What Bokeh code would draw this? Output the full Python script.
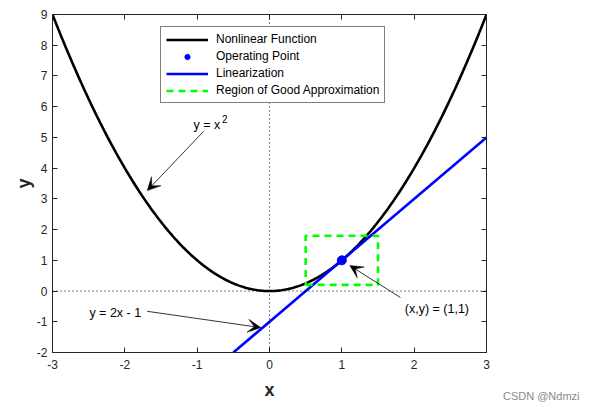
import numpy as np
from bokeh.plotting import figure
from bokeh.models import (Span, Arrow, VeeHead, Label, LinearAxis, Range1d,
                          FixedTicker, Legend, Title)
from bokeh.embed import file_html
from bokeh.resources import INLINE

# ---- data ----
curve_x = np.linspace(-3, 3, 301)
curve_y = curve_x ** 2                    # nonlinear function y = x^2
op_x = [1.0]
op_y = [1.0]
lin_x = [-0.5, 3.0]
lin_y = [-2.0, 5.0]                       # y = 2x - 1
region_x = [0.5, 1.5, 1.5, 0.5, 0.5]
region_y = [0.2, 0.2, 1.8, 1.8, 0.2]
x_ticks = [-3, -2, -1, 0, 1, 2, 3]
y_ticks = [-2, -1, 0, 1, 2, 3, 4, 5, 6, 7, 8, 9]

FONT = "Liberation Sans"
AX = "#262626"

p = figure(frame_width=434, frame_height=338,
           min_border_left=52, min_border_top=14, min_border_right=96,
           min_border_bottom=30, output_backend="svg", toolbar_location=None,
           x_range=Range1d(-3, 3), y_range=Range1d(-2, 9))
p.grid.visible = False
p.outline_line_color = AX
p.outline_line_width = 1
p.background_fill_color = "white"
p.border_fill_color = "white"

for ax in (p.xaxis[0], p.yaxis[0]):
    ax.major_tick_in = 5
    ax.major_tick_out = 0
    ax.minor_tick_in = 0
    ax.minor_tick_out = 0
    ax.axis_line_color = AX
    ax.major_tick_line_color = AX
    ax.major_label_text_color = AX
    ax.major_label_text_font = FONT
    ax.major_label_text_font_size = "12px"
    ax.axis_label_text_font = FONT
    ax.axis_label_text_font_style = "bold"
    ax.axis_label_text_font_size = "18px"
    ax.axis_label_text_color = AX
p.xaxis[0].ticker = FixedTicker(ticks=x_ticks)
p.yaxis[0].ticker = FixedTicker(ticks=y_ticks)
p.xaxis[0].major_label_overrides = {t: str(t) for t in x_ticks}
p.yaxis[0].major_label_overrides = {t: str(t) for t in y_ticks}
p.xaxis[0].axis_label = "x"
p.yaxis[0].axis_label = "y"
p.xaxis[0].major_label_standoff = 7
p.yaxis[0].major_label_standoff = 5
p.xaxis[0].axis_label_standoff = 8
p.yaxis[0].axis_label_standoff = 0

top = LinearAxis(ticker=FixedTicker(ticks=x_ticks),
                 major_label_overrides={t: "" for t in x_ticks},
                 major_tick_in=5, major_tick_out=0, minor_tick_in=0, minor_tick_out=0,
                 major_label_standoff=0, axis_line_color=AX, major_tick_line_color=AX)
right = LinearAxis(ticker=FixedTicker(ticks=y_ticks),
                   major_label_overrides={t: "" for t in y_ticks},
                   major_tick_in=5, major_tick_out=0, minor_tick_in=0, minor_tick_out=0,
                   major_label_standoff=0, axis_line_color=AX, major_tick_line_color=AX)
p.add_layout(top, "above")
p.add_layout(right, "right")

p.add_layout(Span(location=0, dimension="height", line_color="black",
                  line_width=1, line_dash="1 3"))
p.add_layout(Span(location=0, dimension="width", line_color="black",
                  line_width=1, line_dash="1 3"))

r1 = p.line(curve_x, curve_y, line_color="black", line_width=2.6)
r3 = p.line(lin_x, lin_y, line_color="blue", line_width=2.6)
r4 = p.line(region_x, region_y, line_color="#00ff00", line_width=2.6,
            line_dash="7 5")
r2 = p.scatter(op_x, op_y, size=9, fill_color="blue", line_color="blue")

legend = Legend(items=[("Nonlinear Function", [r1]), ("Operating Point", [r2]),
                       ("Linearization", [r3]),
                       ("Region of Good Approximation", [r4])],
                location=(108, 249), label_text_font=FONT,
                label_text_font_size="12px", label_text_color="black",
                label_height=13, glyph_height=13, glyph_width=42, spacing=3,
                padding=5, margin=0, label_standoff=8,
                border_line_color="black", border_line_width=1,
                background_fill_alpha=1.0)
p.add_layout(legend, "center")

def arrow(xs, ys, xe, ye):
    p.add_layout(Arrow(x_start=xs, y_start=ys, x_end=xe, y_end=ye,
                       line_color="black", line_width=0.8,
                       end=VeeHead(size=13, fill_color="black",
                                   line_color="black", line_width=0.5)))

arrow(-0.91, 5.2, -1.69, 3.27)
arrow(-1.69, -0.66, -0.12, -1.19)
arrow(1.81, -0.21, 1.11, 0.83)

def lab(x, y, t, size="12.5px", dy=0):
    p.add_layout(Label(x=x, y=y, y_offset=dy, text=t, text_font=FONT,
                       text_font_size=size, text_color="black",
                       text_align="left", text_baseline="middle"))

lab(-1.05, 5.42, "y = x")
lab(-0.655, 5.42, "2", size="10px", dy=6)
lab(-2.49, -0.73, "y = 2x - 1")
lab(1.87, -0.57, "(x,y) = (1,1)")

p.add_layout(Title(text="CSDN @Ndmzi", align="right", offset=-93, standoff=-25,
                   vertical_align="top",
                   text_font=FONT, text_font_size="11px",
                   text_font_style="normal", text_color="#8a8a8a"), "below")

open("out.html", "w").write(file_html(p, INLINE))
